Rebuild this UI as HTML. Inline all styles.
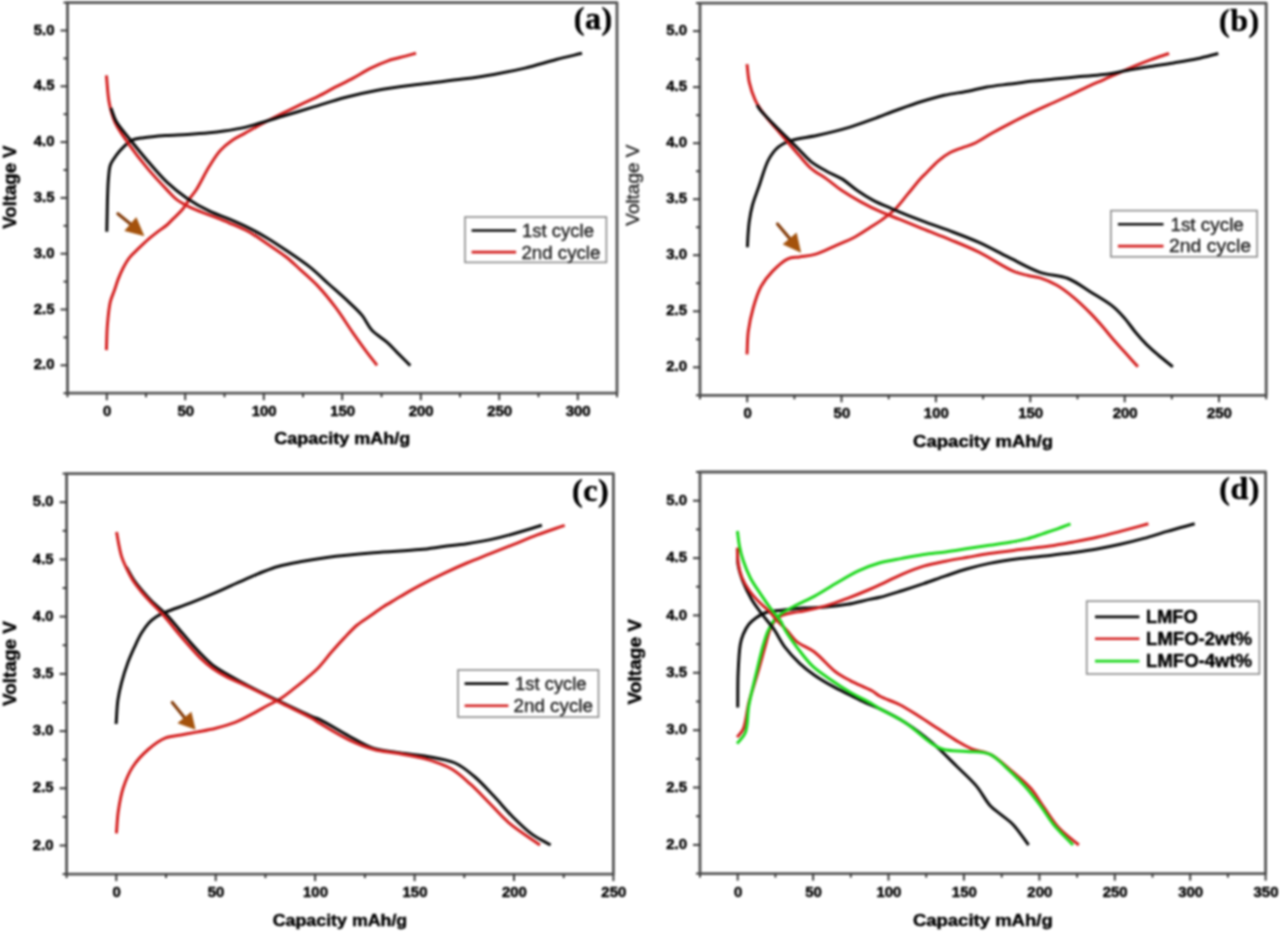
<!DOCTYPE html>
<html><head><meta charset="utf-8"><title>Charge-discharge curves</title>
<style>html,body{margin:0;padding:0;background:#fff;}body{width:1280px;height:933px;overflow:hidden;font-family:"Liberation Sans", sans-serif;}svg{display:block;filter:blur(0.8px);}.tk{stroke:#000;stroke-width:0.45px;}.tr{stroke:#222;stroke-width:0.35px;}</style>
</head><body>
<svg width="1280" height="933" viewBox="0 0 1280 933" font-family='"Liberation Sans", sans-serif'>
<rect width="1280" height="933" fill="#fff"/>
<rect x="67.5" y="2.6" width="549.5" height="390.6" fill="none" stroke="#555555" stroke-width="2.8" stroke-linejoin="round"/>
<line x1="63.5" y1="393.2" x2="67.5" y2="393.2" stroke="#3a3a3a" stroke-width="2"/>
<line x1="60.5" y1="365.3" x2="67.5" y2="365.3" stroke="#3a3a3a" stroke-width="2"/>
<text x="54.5" y="369.4" text-anchor="end" font-size="14" font-weight="bold" fill="#000" class="tk" textLength="20.73" lengthAdjust="spacingAndGlyphs">2.0</text>
<line x1="63.5" y1="337.4" x2="67.5" y2="337.4" stroke="#3a3a3a" stroke-width="2"/>
<line x1="60.5" y1="309.5" x2="67.5" y2="309.5" stroke="#3a3a3a" stroke-width="2"/>
<text x="54.5" y="313.6" text-anchor="end" font-size="14" font-weight="bold" fill="#000" class="tk" textLength="20.73" lengthAdjust="spacingAndGlyphs">2.5</text>
<line x1="63.5" y1="281.6" x2="67.5" y2="281.6" stroke="#3a3a3a" stroke-width="2"/>
<line x1="60.5" y1="253.7" x2="67.5" y2="253.7" stroke="#3a3a3a" stroke-width="2"/>
<text x="54.5" y="257.8" text-anchor="end" font-size="14" font-weight="bold" fill="#000" class="tk" textLength="20.73" lengthAdjust="spacingAndGlyphs">3.0</text>
<line x1="63.5" y1="225.8" x2="67.5" y2="225.8" stroke="#3a3a3a" stroke-width="2"/>
<line x1="60.5" y1="197.9" x2="67.5" y2="197.9" stroke="#3a3a3a" stroke-width="2"/>
<text x="54.5" y="202.0" text-anchor="end" font-size="14" font-weight="bold" fill="#000" class="tk" textLength="20.73" lengthAdjust="spacingAndGlyphs">3.5</text>
<line x1="63.5" y1="170.0" x2="67.5" y2="170.0" stroke="#3a3a3a" stroke-width="2"/>
<line x1="60.5" y1="142.1" x2="67.5" y2="142.1" stroke="#3a3a3a" stroke-width="2"/>
<text x="54.5" y="146.2" text-anchor="end" font-size="14" font-weight="bold" fill="#000" class="tk" textLength="20.73" lengthAdjust="spacingAndGlyphs">4.0</text>
<line x1="63.5" y1="114.2" x2="67.5" y2="114.2" stroke="#3a3a3a" stroke-width="2"/>
<line x1="60.5" y1="86.3" x2="67.5" y2="86.3" stroke="#3a3a3a" stroke-width="2"/>
<text x="54.5" y="90.4" text-anchor="end" font-size="14" font-weight="bold" fill="#000" class="tk" textLength="20.73" lengthAdjust="spacingAndGlyphs">4.5</text>
<line x1="63.5" y1="58.4" x2="67.5" y2="58.4" stroke="#3a3a3a" stroke-width="2"/>
<line x1="60.5" y1="30.5" x2="67.5" y2="30.5" stroke="#3a3a3a" stroke-width="2"/>
<text x="54.5" y="34.6" text-anchor="end" font-size="14" font-weight="bold" fill="#000" class="tk" textLength="20.73" lengthAdjust="spacingAndGlyphs">5.0</text>
<line x1="63.5" y1="2.6" x2="67.5" y2="2.6" stroke="#3a3a3a" stroke-width="2"/>
<line x1="67.5" y1="393.2" x2="67.5" y2="397.2" stroke="#3a3a3a" stroke-width="2"/>
<line x1="106.8" y1="393.2" x2="106.8" y2="400.2" stroke="#3a3a3a" stroke-width="2"/>
<text x="107.2" y="416.2" text-anchor="middle" font-size="14" font-weight="bold" fill="#000" class="tk" textLength="8.29" lengthAdjust="spacingAndGlyphs">0</text>
<line x1="146.0" y1="393.2" x2="146.0" y2="397.2" stroke="#3a3a3a" stroke-width="2"/>
<line x1="185.2" y1="393.2" x2="185.2" y2="400.2" stroke="#3a3a3a" stroke-width="2"/>
<text x="185.7" y="416.2" text-anchor="middle" font-size="14" font-weight="bold" fill="#000" class="tk" textLength="16.58" lengthAdjust="spacingAndGlyphs">50</text>
<line x1="224.5" y1="393.2" x2="224.5" y2="397.2" stroke="#3a3a3a" stroke-width="2"/>
<line x1="263.8" y1="393.2" x2="263.8" y2="400.2" stroke="#3a3a3a" stroke-width="2"/>
<text x="264.1" y="416.2" text-anchor="middle" font-size="14" font-weight="bold" fill="#000" class="tk" textLength="24.88" lengthAdjust="spacingAndGlyphs">100</text>
<line x1="303.0" y1="393.2" x2="303.0" y2="397.2" stroke="#3a3a3a" stroke-width="2"/>
<line x1="342.2" y1="393.2" x2="342.2" y2="400.2" stroke="#3a3a3a" stroke-width="2"/>
<text x="342.6" y="416.2" text-anchor="middle" font-size="14" font-weight="bold" fill="#000" class="tk" textLength="24.88" lengthAdjust="spacingAndGlyphs">150</text>
<line x1="381.5" y1="393.2" x2="381.5" y2="397.2" stroke="#3a3a3a" stroke-width="2"/>
<line x1="420.8" y1="393.2" x2="420.8" y2="400.2" stroke="#3a3a3a" stroke-width="2"/>
<text x="421.1" y="416.2" text-anchor="middle" font-size="14" font-weight="bold" fill="#000" class="tk" textLength="24.88" lengthAdjust="spacingAndGlyphs">200</text>
<line x1="460.0" y1="393.2" x2="460.0" y2="397.2" stroke="#3a3a3a" stroke-width="2"/>
<line x1="499.2" y1="393.2" x2="499.2" y2="400.2" stroke="#3a3a3a" stroke-width="2"/>
<text x="499.6" y="416.2" text-anchor="middle" font-size="14" font-weight="bold" fill="#000" class="tk" textLength="24.88" lengthAdjust="spacingAndGlyphs">250</text>
<line x1="538.5" y1="393.2" x2="538.5" y2="397.2" stroke="#3a3a3a" stroke-width="2"/>
<line x1="577.8" y1="393.2" x2="577.8" y2="400.2" stroke="#3a3a3a" stroke-width="2"/>
<text x="578.1" y="416.2" text-anchor="middle" font-size="14" font-weight="bold" fill="#000" class="tk" textLength="24.88" lengthAdjust="spacingAndGlyphs">300</text>
<line x1="617.0" y1="393.2" x2="617.0" y2="397.2" stroke="#3a3a3a" stroke-width="2"/>
<text x="342.2" y="443.9" text-anchor="middle" font-size="17" font-weight="bold" fill="#000" class="tk" textLength="136.0" lengthAdjust="spacingAndGlyphs">Capacity mAh/g</text>
<text transform="translate(15.6 187.1) rotate(-90)" text-anchor="middle" font-size="18.5" font-weight="bold" fill="#000" class="tk" textLength="83.2" lengthAdjust="spacingAndGlyphs">Voltage V</text>
<text x="573.7" y="29.3" font-family='"Liberation Serif", serif' font-size="32" font-weight="bold" fill="#000" class="tk" letter-spacing="0.6">(a)</text>
<path d="M106.40 350.10 C106.73 341.73 106.72 333.18 107.40 325.00 C108.05 317.13 108.78 308.30 110.30 301.90 C111.43 297.15 113.26 293.69 114.60 289.80 C115.84 286.21 116.75 282.90 118.10 279.40 C119.53 275.70 121.13 271.80 123.00 268.20 C124.86 264.61 126.79 261.01 129.30 257.80 C131.87 254.50 135.15 251.76 138.30 248.70 C141.63 245.46 145.25 241.97 148.80 238.90 C152.22 235.95 155.97 233.06 159.20 230.60 C161.93 228.52 164.55 227.00 166.90 225.00 C169.13 223.09 170.74 221.16 173.00 218.90 C175.84 216.06 179.73 212.81 182.60 209.30 C185.51 205.75 187.87 201.14 190.30 197.70 C192.33 194.84 193.90 193.37 196.10 190.00 C199.81 184.30 205.10 173.03 209.50 166.00 C213.15 160.17 216.32 154.89 220.30 150.50 C223.89 146.54 227.90 143.36 232.00 140.50 C235.92 137.76 239.73 136.15 244.30 133.60 C250.03 130.40 257.21 126.23 263.70 122.80 C270.08 119.43 276.68 116.28 282.90 113.20 C288.76 110.30 294.24 107.55 300.00 104.80 C305.81 102.02 311.77 99.51 317.60 96.60 C323.51 93.65 329.32 90.25 335.20 87.20 C341.02 84.18 346.90 81.50 352.70 78.40 C358.60 75.24 364.35 71.36 370.30 68.40 C376.09 65.52 381.96 62.86 387.90 60.80 C393.69 58.79 400.39 57.49 405.50 56.10 C409.45 55.03 412.50 54.17 416.00 53.20" fill="none" stroke="#d42020" stroke-width="3.0" stroke-linejoin="round" stroke-linecap="butt"/>
<path d="M106.80 231.80 C106.93 225.20 107.06 218.35 107.20 212.00 C107.33 206.12 107.38 200.67 107.60 195.00 C107.82 189.33 107.98 183.28 108.50 178.00 C108.96 173.37 108.99 168.90 110.40 165.00 C111.72 161.35 114.13 158.29 116.40 155.20 C118.69 152.08 121.42 148.95 124.10 146.40 C126.54 144.08 128.69 141.84 131.70 140.40 C135.09 138.78 139.08 138.45 143.70 137.70 C149.88 136.70 158.29 136.05 165.60 135.50 C172.89 134.95 180.20 134.87 187.50 134.40 C194.80 133.93 202.84 133.34 209.40 132.70 C214.76 132.18 219.03 131.69 224.00 131.00 C229.22 130.27 235.15 129.39 240.00 128.40 C244.11 127.56 246.62 126.88 251.30 125.60 C259.13 123.46 272.09 119.41 282.50 116.30 C292.93 113.18 303.38 110.04 313.80 106.90 C324.21 103.77 334.54 100.24 345.00 97.50 C355.38 94.78 364.95 92.58 376.30 90.50 C389.61 88.06 405.52 86.11 420.00 84.20 C434.25 82.32 449.43 80.87 462.50 79.10 C473.74 77.58 483.40 76.23 493.80 74.40 C504.23 72.56 514.63 70.57 525.00 68.10 C535.47 65.61 546.36 62.06 556.30 59.50 C565.27 57.19 573.43 55.37 582.00 53.30" fill="none" stroke="#0a0a0a" stroke-width="3.0" stroke-linejoin="round" stroke-linecap="butt"/>
<path d="M106.40 75.30 C107.37 84.63 107.62 94.90 109.30 103.30 C110.72 110.40 112.18 116.22 115.10 122.60 C118.36 129.73 123.52 136.55 128.60 143.80 C134.30 151.94 141.30 161.02 147.90 168.90 C154.18 176.40 161.82 184.49 167.20 190.10 C170.89 193.95 173.12 196.79 176.80 199.60 C180.75 202.62 185.30 204.97 190.30 207.40 C196.07 210.20 203.17 212.53 209.60 215.10 C216.03 217.67 222.50 220.08 228.90 222.80 C235.36 225.54 241.89 228.06 248.20 231.50 C254.77 235.08 261.10 239.69 267.50 244.00 C273.97 248.36 281.10 252.96 286.80 257.50 C291.75 261.44 295.30 265.09 300.00 269.40 C305.49 274.43 311.99 279.85 317.70 285.90 C323.81 292.37 329.67 299.61 335.40 307.20 C341.50 315.28 347.76 325.46 353.10 333.10 C357.39 339.24 360.90 344.19 364.90 349.60 C368.86 354.96 372.97 360.13 377.00 365.40" fill="none" stroke="#d42020" stroke-width="3.0" stroke-linejoin="round" stroke-linecap="butt"/>
<path d="M111.00 108.00 C112.67 112.33 113.46 116.45 116.00 121.00 C119.33 126.96 125.39 133.54 130.50 140.00 C135.98 146.92 141.86 154.21 147.90 161.20 C154.08 168.35 160.51 176.11 167.20 182.40 C173.41 188.24 179.58 193.17 186.50 197.90 C193.68 202.81 202.12 207.58 209.60 211.20 C216.20 214.40 222.50 216.18 228.90 218.90 C235.36 221.64 241.83 224.42 248.20 227.60 C254.70 230.84 261.14 234.38 267.50 238.20 C274.01 242.10 280.11 246.26 286.80 250.80 C294.22 255.84 302.78 261.44 310.00 267.20 C316.90 272.70 322.87 278.72 329.30 284.50 C335.74 290.29 342.80 296.40 348.60 301.90 C353.57 306.62 358.19 310.61 362.10 315.40 C365.83 319.97 367.71 325.52 371.70 329.90 C375.97 334.59 382.75 338.38 387.20 342.40 C390.89 345.73 393.32 348.60 396.80 352.10 C400.91 356.23 405.80 361.10 410.30 365.60" fill="none" stroke="#0a0a0a" stroke-width="3.0" stroke-linejoin="round" stroke-linecap="butt"/>
<line x1="117.9" y1="213.8" x2="130.5" y2="224.1" stroke="#86400f" stroke-width="3.2" stroke-linecap="round"/>
<polygon points="143.9,235.7 136.2,217.6 124.8,230.7" fill="#a4520c" stroke="#a4520c" stroke-width="0.6" stroke-linejoin="round"/>
<rect x="465.0" y="217.0" width="141.4" height="45.4" fill="#fff" stroke="#8a8a8a" stroke-width="1.6"/>
<line x1="471.6" y1="230.5" x2="516.1" y2="230.5" stroke="#0a0a0a" stroke-width="2.6"/>
<text x="522.0" y="236.9" font-size="18" font-weight="normal" fill="#222" class="tr" textLength="72.0" lengthAdjust="spacingAndGlyphs">1st cycle</text>
<line x1="471.6" y1="252.1" x2="516.1" y2="252.1" stroke="#d42020" stroke-width="2.6"/>
<text x="521.4" y="258.8" font-size="18" font-weight="normal" fill="#222" class="tr" textLength="79.0" lengthAdjust="spacingAndGlyphs">2nd cycle</text>
<rect x="700.0" y="3.1" width="566.2" height="392.2" fill="none" stroke="#555555" stroke-width="2.8" stroke-linejoin="round"/>
<line x1="696.0" y1="395.3" x2="700.0" y2="395.3" stroke="#3a3a3a" stroke-width="2"/>
<line x1="693.0" y1="367.3" x2="700.0" y2="367.3" stroke="#3a3a3a" stroke-width="2"/>
<text x="687.0" y="371.4" text-anchor="end" font-size="14" font-weight="bold" fill="#000" class="tk" textLength="20.73" lengthAdjust="spacingAndGlyphs">2.0</text>
<line x1="696.0" y1="339.3" x2="700.0" y2="339.3" stroke="#3a3a3a" stroke-width="2"/>
<line x1="693.0" y1="311.3" x2="700.0" y2="311.3" stroke="#3a3a3a" stroke-width="2"/>
<text x="687.0" y="315.4" text-anchor="end" font-size="14" font-weight="bold" fill="#000" class="tk" textLength="20.73" lengthAdjust="spacingAndGlyphs">2.5</text>
<line x1="696.0" y1="283.2" x2="700.0" y2="283.2" stroke="#3a3a3a" stroke-width="2"/>
<line x1="693.0" y1="255.2" x2="700.0" y2="255.2" stroke="#3a3a3a" stroke-width="2"/>
<text x="687.0" y="259.3" text-anchor="end" font-size="14" font-weight="bold" fill="#000" class="tk" textLength="20.73" lengthAdjust="spacingAndGlyphs">3.0</text>
<line x1="696.0" y1="227.2" x2="700.0" y2="227.2" stroke="#3a3a3a" stroke-width="2"/>
<line x1="693.0" y1="199.2" x2="700.0" y2="199.2" stroke="#3a3a3a" stroke-width="2"/>
<text x="687.0" y="203.3" text-anchor="end" font-size="14" font-weight="bold" fill="#000" class="tk" textLength="20.73" lengthAdjust="spacingAndGlyphs">3.5</text>
<line x1="696.0" y1="171.2" x2="700.0" y2="171.2" stroke="#3a3a3a" stroke-width="2"/>
<line x1="693.0" y1="143.2" x2="700.0" y2="143.2" stroke="#3a3a3a" stroke-width="2"/>
<text x="687.0" y="147.3" text-anchor="end" font-size="14" font-weight="bold" fill="#000" class="tk" textLength="20.73" lengthAdjust="spacingAndGlyphs">4.0</text>
<line x1="696.0" y1="115.2" x2="700.0" y2="115.2" stroke="#3a3a3a" stroke-width="2"/>
<line x1="693.0" y1="87.1" x2="700.0" y2="87.1" stroke="#3a3a3a" stroke-width="2"/>
<text x="687.0" y="91.2" text-anchor="end" font-size="14" font-weight="bold" fill="#000" class="tk" textLength="20.73" lengthAdjust="spacingAndGlyphs">4.5</text>
<line x1="696.0" y1="59.1" x2="700.0" y2="59.1" stroke="#3a3a3a" stroke-width="2"/>
<line x1="693.0" y1="31.1" x2="700.0" y2="31.1" stroke="#3a3a3a" stroke-width="2"/>
<text x="687.0" y="35.2" text-anchor="end" font-size="14" font-weight="bold" fill="#000" class="tk" textLength="20.73" lengthAdjust="spacingAndGlyphs">5.0</text>
<line x1="696.0" y1="3.1" x2="700.0" y2="3.1" stroke="#3a3a3a" stroke-width="2"/>
<line x1="700.0" y1="395.3" x2="700.0" y2="399.3" stroke="#3a3a3a" stroke-width="2"/>
<line x1="747.2" y1="395.3" x2="747.2" y2="402.3" stroke="#3a3a3a" stroke-width="2"/>
<text x="747.6" y="418.3" text-anchor="middle" font-size="14" font-weight="bold" fill="#000" class="tk" textLength="8.29" lengthAdjust="spacingAndGlyphs">0</text>
<line x1="794.4" y1="395.3" x2="794.4" y2="399.3" stroke="#3a3a3a" stroke-width="2"/>
<line x1="841.5" y1="395.3" x2="841.5" y2="402.3" stroke="#3a3a3a" stroke-width="2"/>
<text x="841.9" y="418.3" text-anchor="middle" font-size="14" font-weight="bold" fill="#000" class="tk" textLength="16.58" lengthAdjust="spacingAndGlyphs">50</text>
<line x1="888.7" y1="395.3" x2="888.7" y2="399.3" stroke="#3a3a3a" stroke-width="2"/>
<line x1="935.9" y1="395.3" x2="935.9" y2="402.3" stroke="#3a3a3a" stroke-width="2"/>
<text x="936.3" y="418.3" text-anchor="middle" font-size="14" font-weight="bold" fill="#000" class="tk" textLength="24.88" lengthAdjust="spacingAndGlyphs">100</text>
<line x1="983.1" y1="395.3" x2="983.1" y2="399.3" stroke="#3a3a3a" stroke-width="2"/>
<line x1="1030.3" y1="395.3" x2="1030.3" y2="402.3" stroke="#3a3a3a" stroke-width="2"/>
<text x="1030.7" y="418.3" text-anchor="middle" font-size="14" font-weight="bold" fill="#000" class="tk" textLength="24.88" lengthAdjust="spacingAndGlyphs">150</text>
<line x1="1077.5" y1="395.3" x2="1077.5" y2="399.3" stroke="#3a3a3a" stroke-width="2"/>
<line x1="1124.7" y1="395.3" x2="1124.7" y2="402.3" stroke="#3a3a3a" stroke-width="2"/>
<text x="1125.1" y="418.3" text-anchor="middle" font-size="14" font-weight="bold" fill="#000" class="tk" textLength="24.88" lengthAdjust="spacingAndGlyphs">200</text>
<line x1="1171.8" y1="395.3" x2="1171.8" y2="399.3" stroke="#3a3a3a" stroke-width="2"/>
<line x1="1219.0" y1="395.3" x2="1219.0" y2="402.3" stroke="#3a3a3a" stroke-width="2"/>
<text x="1219.4" y="418.3" text-anchor="middle" font-size="14" font-weight="bold" fill="#000" class="tk" textLength="24.88" lengthAdjust="spacingAndGlyphs">250</text>
<line x1="1266.2" y1="395.3" x2="1266.2" y2="399.3" stroke="#3a3a3a" stroke-width="2"/>
<text x="983.1" y="447.0" text-anchor="middle" font-size="17" font-weight="bold" fill="#000" class="tk" textLength="140.0" lengthAdjust="spacingAndGlyphs">Capacity mAh/g</text>
<text transform="translate(639.0 185.2) rotate(-90)" text-anchor="middle" font-size="18.5" font-weight="normal" fill="#222" class="tr" textLength="81.0" lengthAdjust="spacingAndGlyphs">Voltage V</text>
<text x="1218.9" y="31.0" font-family='"Liberation Serif", serif' font-size="32" font-weight="bold" fill="#000" class="tk" letter-spacing="0.6">(b)</text>
<path d="M747.00 354.40 C747.43 346.67 747.28 338.89 748.30 331.20 C749.33 323.43 751.06 315.49 753.20 308.00 C755.29 300.70 757.51 293.08 760.90 286.80 C764.03 281.00 767.96 276.03 772.40 271.40 C776.93 266.68 782.80 261.09 787.90 258.80 C791.81 257.04 795.36 257.58 799.50 256.90 C804.27 256.12 809.57 255.93 814.90 254.40 C821.07 252.63 827.64 249.16 834.20 246.30 C841.12 243.28 849.09 240.09 855.40 236.70 C860.83 233.78 865.36 230.46 870.00 227.50 C874.26 224.78 878.16 222.52 882.20 219.60 C886.50 216.49 890.91 213.31 895.00 209.30 C899.52 204.87 903.61 199.04 907.90 193.90 C912.18 188.77 917.16 182.39 920.70 178.50 C923.01 175.97 924.37 174.83 926.70 172.50 C929.95 169.25 934.34 164.22 938.40 160.80 C942.19 157.61 946.13 154.70 950.20 152.50 C954.02 150.44 958.05 149.27 962.00 147.80 C965.92 146.34 969.51 145.67 973.80 143.70 C979.48 141.09 986.48 136.17 992.70 132.70 C998.64 129.39 1003.98 126.56 1010.30 123.30 C1017.54 119.56 1025.94 115.34 1033.80 111.60 C1041.57 107.91 1049.96 104.33 1057.20 101.00 C1063.49 98.11 1069.15 95.45 1074.80 92.80 C1080.06 90.33 1085.07 87.83 1090.00 85.60 C1094.59 83.52 1098.32 82.04 1103.40 79.80 C1110.15 76.83 1119.04 72.63 1126.90 69.30 C1134.68 66.00 1142.89 62.65 1150.30 59.90 C1156.87 57.46 1162.83 55.63 1169.10 53.50" fill="none" stroke="#d42020" stroke-width="3.0" stroke-linejoin="round" stroke-linecap="butt"/>
<path d="M747.40 247.30 C747.60 243.20 747.70 239.21 748.00 235.00 C748.32 230.53 748.61 225.97 749.30 221.20 C750.06 216.00 751.00 210.52 752.50 205.00 C754.13 199.01 756.53 193.31 758.90 186.60 C761.78 178.45 764.74 166.66 768.60 159.60 C771.46 154.37 774.30 150.33 778.20 147.10 C782.02 143.94 786.36 142.12 791.70 140.30 C798.64 137.94 807.88 137.48 816.80 135.50 C827.13 133.21 839.93 130.12 850.00 127.10 C858.60 124.52 865.75 121.74 873.60 118.90 C881.49 116.04 889.31 112.86 897.20 110.00 C905.05 107.16 912.90 104.26 920.80 101.80 C928.60 99.37 936.41 97.07 944.30 95.30 C952.12 93.54 960.48 92.66 967.90 91.20 C974.59 89.88 980.21 88.17 986.90 87.00 C994.27 85.72 1002.49 84.98 1010.30 84.00 C1018.12 83.02 1025.97 81.97 1033.80 81.10 C1041.60 80.24 1049.45 79.55 1057.20 78.80 C1064.85 78.06 1072.35 77.30 1080.00 76.60 C1087.75 75.90 1095.61 75.61 1103.40 74.60 C1111.25 73.58 1119.08 71.87 1126.90 70.50 C1134.71 69.13 1142.48 67.67 1150.30 66.40 C1158.12 65.13 1165.98 64.17 1173.80 62.90 C1181.62 61.63 1189.63 60.41 1197.20 58.80 C1204.44 57.26 1211.27 55.27 1218.30 53.50" fill="none" stroke="#0a0a0a" stroke-width="3.0" stroke-linejoin="round" stroke-linecap="butt"/>
<path d="M747.00 64.10 C747.77 70.20 747.95 76.44 749.30 82.40 C750.65 88.34 752.52 94.32 755.10 99.80 C757.66 105.25 761.15 110.35 764.70 115.20 C768.22 120.01 772.43 124.28 776.30 128.80 C780.16 133.31 784.03 137.80 787.90 142.30 C791.77 146.80 795.60 151.42 799.50 155.80 C803.31 160.08 806.64 164.53 811.00 168.30 C815.58 172.27 821.38 175.23 826.50 178.90 C831.68 182.62 836.37 186.77 841.90 190.50 C847.87 194.53 854.69 198.53 861.20 202.10 C867.56 205.59 874.01 208.80 880.50 211.70 C886.88 214.55 893.09 216.68 899.80 219.40 C907.16 222.38 914.88 225.67 922.90 228.90 C931.56 232.39 940.85 235.82 950.00 239.60 C959.51 243.53 968.94 247.20 978.90 252.10 C990.09 257.61 1004.46 267.57 1013.70 271.40 C1019.35 273.74 1023.42 274.39 1028.00 275.50 C1032.15 276.51 1035.74 276.56 1040.00 277.90 C1045.24 279.55 1051.43 282.16 1056.90 285.30 C1062.72 288.64 1068.31 293.05 1073.80 297.60 C1079.56 302.37 1085.64 308.36 1090.60 313.40 C1094.83 317.70 1098.19 321.53 1101.90 325.80 C1105.69 330.16 1109.31 334.94 1113.10 339.30 C1116.81 343.57 1120.48 347.35 1124.40 351.70 C1128.71 356.48 1133.40 361.77 1137.90 366.80" fill="none" stroke="#d42020" stroke-width="3.0" stroke-linejoin="round" stroke-linecap="butt"/>
<path d="M757.00 105.00 C757.97 106.50 758.48 107.68 759.90 109.50 C762.52 112.88 767.96 118.40 772.40 123.00 C777.24 128.01 783.11 133.63 787.90 138.40 C792.05 142.54 795.65 146.13 799.50 150.00 C803.35 153.86 806.65 158.14 811.00 161.60 C815.59 165.25 821.27 168.28 826.50 171.20 C831.58 174.03 836.90 175.81 841.90 178.90 C847.19 182.18 852.08 186.93 857.30 190.50 C862.38 193.98 867.25 197.14 872.80 200.10 C878.78 203.28 884.88 205.72 892.10 208.80 C901.14 212.65 912.93 217.41 922.90 221.20 C932.19 224.73 940.85 227.44 950.00 230.90 C959.51 234.49 969.35 238.12 978.90 242.40 C988.65 246.77 997.97 252.03 1007.90 256.90 C1018.31 262.00 1029.45 268.66 1040.00 272.30 C1049.49 275.57 1059.51 275.08 1068.10 278.50 C1076.31 281.77 1083.14 287.34 1090.60 292.00 C1098.14 296.71 1107.08 301.73 1113.10 306.60 C1117.75 310.36 1120.76 313.77 1124.40 317.90 C1128.31 322.34 1131.85 327.90 1135.70 332.50 C1139.36 336.88 1143.05 341.07 1146.90 344.90 C1150.56 348.54 1154.15 351.55 1158.20 355.00 C1162.71 358.84 1167.93 362.87 1172.80 366.80" fill="none" stroke="#0a0a0a" stroke-width="3.0" stroke-linejoin="round" stroke-linecap="butt"/>
<line x1="777.5" y1="224.0" x2="789.8" y2="238.6" stroke="#86400f" stroke-width="3.2" stroke-linecap="round"/>
<polygon points="800.7,252.3 796.4,233.0 783.1,244.2" fill="#a4520c" stroke="#a4520c" stroke-width="0.6" stroke-linejoin="round"/>
<rect x="1110.9" y="210.6" width="146.2" height="46.2" fill="#fff" stroke="#8a8a8a" stroke-width="1.6"/>
<line x1="1117.9" y1="224.3" x2="1163.5" y2="224.3" stroke="#0a0a0a" stroke-width="2.6"/>
<text x="1170.4" y="230.5" font-size="18" font-weight="normal" fill="#222" class="tr" textLength="73.5" lengthAdjust="spacingAndGlyphs">1st cycle</text>
<line x1="1117.9" y1="246.1" x2="1163.5" y2="246.1" stroke="#d42020" stroke-width="2.6"/>
<text x="1169.0" y="251.8" font-size="18" font-weight="normal" fill="#222" class="tr" textLength="82.0" lengthAdjust="spacingAndGlyphs">2nd cycle</text>
<rect x="66.6" y="473.6" width="546.8" height="400.5" fill="none" stroke="#555555" stroke-width="2.8" stroke-linejoin="round"/>
<line x1="62.6" y1="874.1" x2="66.6" y2="874.1" stroke="#3a3a3a" stroke-width="2"/>
<line x1="59.6" y1="845.5" x2="66.6" y2="845.5" stroke="#3a3a3a" stroke-width="2"/>
<text x="53.6" y="849.6" text-anchor="end" font-size="14" font-weight="bold" fill="#000" class="tk" textLength="20.73" lengthAdjust="spacingAndGlyphs">2.0</text>
<line x1="62.6" y1="816.9" x2="66.6" y2="816.9" stroke="#3a3a3a" stroke-width="2"/>
<line x1="59.6" y1="788.3" x2="66.6" y2="788.3" stroke="#3a3a3a" stroke-width="2"/>
<text x="53.6" y="792.4" text-anchor="end" font-size="14" font-weight="bold" fill="#000" class="tk" textLength="20.73" lengthAdjust="spacingAndGlyphs">2.5</text>
<line x1="62.6" y1="759.7" x2="66.6" y2="759.7" stroke="#3a3a3a" stroke-width="2"/>
<line x1="59.6" y1="731.1" x2="66.6" y2="731.1" stroke="#3a3a3a" stroke-width="2"/>
<text x="53.6" y="735.2" text-anchor="end" font-size="14" font-weight="bold" fill="#000" class="tk" textLength="20.73" lengthAdjust="spacingAndGlyphs">3.0</text>
<line x1="62.6" y1="702.5" x2="66.6" y2="702.5" stroke="#3a3a3a" stroke-width="2"/>
<line x1="59.6" y1="673.9" x2="66.6" y2="673.9" stroke="#3a3a3a" stroke-width="2"/>
<text x="53.6" y="678.0" text-anchor="end" font-size="14" font-weight="bold" fill="#000" class="tk" textLength="20.73" lengthAdjust="spacingAndGlyphs">3.5</text>
<line x1="62.6" y1="645.2" x2="66.6" y2="645.2" stroke="#3a3a3a" stroke-width="2"/>
<line x1="59.6" y1="616.6" x2="66.6" y2="616.6" stroke="#3a3a3a" stroke-width="2"/>
<text x="53.6" y="620.7" text-anchor="end" font-size="14" font-weight="bold" fill="#000" class="tk" textLength="20.73" lengthAdjust="spacingAndGlyphs">4.0</text>
<line x1="62.6" y1="588.0" x2="66.6" y2="588.0" stroke="#3a3a3a" stroke-width="2"/>
<line x1="59.6" y1="559.4" x2="66.6" y2="559.4" stroke="#3a3a3a" stroke-width="2"/>
<text x="53.6" y="563.5" text-anchor="end" font-size="14" font-weight="bold" fill="#000" class="tk" textLength="20.73" lengthAdjust="spacingAndGlyphs">4.5</text>
<line x1="62.6" y1="530.8" x2="66.6" y2="530.8" stroke="#3a3a3a" stroke-width="2"/>
<line x1="59.6" y1="502.2" x2="66.6" y2="502.2" stroke="#3a3a3a" stroke-width="2"/>
<text x="53.6" y="506.3" text-anchor="end" font-size="14" font-weight="bold" fill="#000" class="tk" textLength="20.73" lengthAdjust="spacingAndGlyphs">5.0</text>
<line x1="62.6" y1="473.6" x2="66.6" y2="473.6" stroke="#3a3a3a" stroke-width="2"/>
<line x1="66.6" y1="874.1" x2="66.6" y2="878.1" stroke="#3a3a3a" stroke-width="2"/>
<line x1="116.3" y1="874.1" x2="116.3" y2="881.1" stroke="#3a3a3a" stroke-width="2"/>
<text x="116.7" y="897.3" text-anchor="middle" font-size="14" font-weight="bold" fill="#000" class="tk" textLength="8.29" lengthAdjust="spacingAndGlyphs">0</text>
<line x1="166.0" y1="874.1" x2="166.0" y2="878.1" stroke="#3a3a3a" stroke-width="2"/>
<line x1="215.7" y1="874.1" x2="215.7" y2="881.1" stroke="#3a3a3a" stroke-width="2"/>
<text x="216.1" y="897.3" text-anchor="middle" font-size="14" font-weight="bold" fill="#000" class="tk" textLength="16.58" lengthAdjust="spacingAndGlyphs">50</text>
<line x1="265.4" y1="874.1" x2="265.4" y2="878.1" stroke="#3a3a3a" stroke-width="2"/>
<line x1="315.1" y1="874.1" x2="315.1" y2="881.1" stroke="#3a3a3a" stroke-width="2"/>
<text x="315.5" y="897.3" text-anchor="middle" font-size="14" font-weight="bold" fill="#000" class="tk" textLength="24.88" lengthAdjust="spacingAndGlyphs">100</text>
<line x1="364.9" y1="874.1" x2="364.9" y2="878.1" stroke="#3a3a3a" stroke-width="2"/>
<line x1="414.6" y1="874.1" x2="414.6" y2="881.1" stroke="#3a3a3a" stroke-width="2"/>
<text x="415.0" y="897.3" text-anchor="middle" font-size="14" font-weight="bold" fill="#000" class="tk" textLength="24.88" lengthAdjust="spacingAndGlyphs">150</text>
<line x1="464.3" y1="874.1" x2="464.3" y2="878.1" stroke="#3a3a3a" stroke-width="2"/>
<line x1="514.0" y1="874.1" x2="514.0" y2="881.1" stroke="#3a3a3a" stroke-width="2"/>
<text x="514.4" y="897.3" text-anchor="middle" font-size="14" font-weight="bold" fill="#000" class="tk" textLength="24.88" lengthAdjust="spacingAndGlyphs">200</text>
<line x1="563.7" y1="874.1" x2="563.7" y2="878.1" stroke="#3a3a3a" stroke-width="2"/>
<line x1="613.4" y1="874.1" x2="613.4" y2="881.1" stroke="#3a3a3a" stroke-width="2"/>
<text x="613.8" y="897.3" text-anchor="middle" font-size="14" font-weight="bold" fill="#000" class="tk" textLength="24.88" lengthAdjust="spacingAndGlyphs">250</text>
<text x="340.0" y="926.2" text-anchor="middle" font-size="17" font-weight="bold" fill="#000" class="tk" textLength="134.5" lengthAdjust="spacingAndGlyphs">Capacity mAh/g</text>
<text transform="translate(16.0 663.5) rotate(-90)" text-anchor="middle" font-size="18.5" font-weight="bold" fill="#000" class="tk" textLength="85.0" lengthAdjust="spacingAndGlyphs">Voltage V</text>
<text x="571.9" y="500.9" font-family='"Liberation Serif", serif' font-size="32" font-weight="bold" fill="#000" class="tk" letter-spacing="0.6">(c)</text>
<path d="M116.40 833.40 C117.03 826.00 117.20 818.65 118.30 811.20 C119.44 803.52 120.76 795.43 123.20 788.00 C125.61 780.64 128.63 773.22 132.80 766.80 C136.96 760.39 142.57 754.40 148.20 749.50 C153.55 744.85 159.73 740.29 165.60 737.90 C170.68 735.83 175.86 735.97 181.00 735.00 C186.16 734.03 191.05 733.16 196.50 732.10 C202.59 730.92 209.40 729.80 215.80 728.20 C222.27 726.58 228.77 724.90 235.10 722.40 C241.65 719.81 248.56 715.86 254.40 712.80 C259.36 710.20 263.60 707.67 268.00 705.30 C272.11 703.09 276.03 701.50 280.00 699.00 C284.33 696.28 288.64 692.70 292.90 689.40 C297.21 686.07 301.47 682.70 305.70 679.10 C310.04 675.40 314.45 671.80 318.60 667.50 C323.07 662.87 327.16 657.09 331.50 652.10 C335.73 647.23 339.96 642.47 344.30 637.90 C348.53 633.44 352.73 628.75 357.20 625.00 C361.35 621.52 365.80 619.00 370.10 616.00 C374.40 613.00 378.66 609.81 383.00 607.00 C387.23 604.26 391.52 601.86 395.80 599.30 C400.09 596.73 404.53 594.01 408.70 591.60 C412.57 589.36 415.52 587.67 420.00 585.30 C426.37 581.94 435.55 577.33 443.40 573.60 C451.19 569.90 459.04 566.33 466.90 563.00 C474.67 559.71 482.49 556.81 490.30 553.70 C498.13 550.58 505.98 547.44 513.80 544.30 C521.61 541.17 529.05 537.96 537.20 534.90 C545.96 531.61 555.53 528.50 564.70 525.30" fill="none" stroke="#d42020" stroke-width="3.0" stroke-linejoin="round" stroke-linecap="butt"/>
<path d="M116.10 724.00 C116.70 716.00 116.86 707.29 117.90 700.00 C118.78 693.79 119.95 688.83 121.50 682.90 C123.23 676.31 125.66 668.61 128.00 662.30 C130.06 656.74 132.30 651.86 134.60 646.90 C136.81 642.14 138.99 637.26 141.50 633.10 C143.76 629.35 146.18 625.72 148.80 622.90 C151.06 620.46 153.36 618.63 156.00 616.90 C158.74 615.11 161.19 614.05 165.00 612.40 C171.20 609.72 181.65 606.45 190.00 603.20 C198.51 599.89 208.13 595.92 215.60 592.70 C221.50 590.16 226.07 587.95 231.30 585.60 C236.51 583.25 241.69 580.87 246.90 578.60 C252.09 576.34 257.27 574.03 262.50 572.00 C267.67 570.00 272.40 568.11 278.10 566.50 C284.73 564.63 292.30 563.24 300.00 561.80 C308.49 560.21 316.68 558.83 326.90 557.50 C340.33 555.75 358.13 554.12 373.70 552.80 C389.16 551.49 407.19 550.86 420.00 549.60 C429.13 548.70 435.59 547.58 443.40 546.60 C451.22 545.62 459.09 544.87 466.90 543.70 C474.72 542.53 482.52 541.24 490.30 539.60 C498.15 537.94 505.65 536.04 513.80 533.80 C522.78 531.34 532.53 528.13 541.90 525.30" fill="none" stroke="#0a0a0a" stroke-width="3.0" stroke-linejoin="round" stroke-linecap="butt"/>
<path d="M126.40 567.00 C128.80 571.20 130.91 575.60 133.60 579.60 C136.28 583.60 139.46 587.40 142.50 591.00 C145.40 594.45 147.96 597.35 151.40 600.80 C155.67 605.08 161.76 609.74 166.40 614.50 C170.90 619.12 174.82 624.17 178.90 628.90 C182.84 633.47 186.60 638.01 190.50 642.40 C194.33 646.71 198.07 650.98 202.10 655.00 C206.11 659.01 210.09 663.13 214.60 666.50 C219.10 669.86 223.78 672.15 229.10 675.20 C235.46 678.85 242.41 682.68 250.30 686.80 C260.04 691.88 272.63 698.06 283.30 703.20 C293.22 707.98 305.57 713.93 312.20 716.70 C315.58 718.12 316.66 718.04 320.00 719.60 C326.68 722.71 339.54 731.02 348.90 736.00 C357.50 740.58 365.59 745.77 374.00 748.50 C381.70 751.00 389.03 751.18 397.20 752.40 C406.29 753.76 416.50 754.45 426.10 756.20 C435.80 757.97 446.72 759.25 455.10 763.00 C462.55 766.33 468.20 771.28 474.40 776.50 C481.07 782.11 487.26 789.14 493.60 795.80 C500.10 802.63 506.30 810.43 512.90 817.00 C519.18 823.25 525.58 829.59 532.20 834.40 C538.18 838.75 544.47 841.47 550.60 845.00" fill="none" stroke="#0a0a0a" stroke-width="3.0" stroke-linejoin="round" stroke-linecap="butt"/>
<path d="M116.60 532.10 C117.30 536.10 117.88 540.07 118.70 544.10 C119.54 548.24 120.31 552.56 121.60 556.60 C122.88 560.59 124.56 564.30 126.40 568.20 C128.36 572.36 130.54 576.79 133.10 580.80 C135.67 584.83 138.82 588.69 141.80 592.30 C144.63 595.73 147.22 598.48 150.50 602.00 C154.58 606.36 160.07 611.42 164.50 616.40 C168.90 621.35 172.88 626.86 177.00 631.80 C180.91 636.48 184.71 640.91 188.60 645.30 C192.41 649.60 196.04 654.00 200.10 657.90 C204.08 661.73 208.22 665.31 212.70 668.50 C217.22 671.72 221.86 674.37 227.10 677.10 C232.98 680.17 241.44 683.43 246.40 685.80 C249.57 687.31 250.70 688.00 254.10 689.70 C260.70 693.01 273.59 699.39 283.30 704.20 C292.96 708.99 305.67 714.85 312.20 718.50 C315.69 720.45 316.55 721.34 320.00 723.40 C326.56 727.32 339.44 735.32 348.90 739.80 C357.41 743.83 365.68 747.24 374.00 749.50 C381.78 751.61 389.06 751.82 397.20 753.30 C406.32 754.96 416.91 756.42 426.10 759.10 C434.88 761.66 443.68 764.48 451.20 768.80 C458.41 772.94 464.22 778.59 470.50 784.20 C477.10 790.10 483.39 797.06 489.80 803.50 C496.19 809.93 501.45 816.46 508.90 822.80 C517.74 830.33 529.63 837.60 540.00 845.00" fill="none" stroke="#d42020" stroke-width="3.0" stroke-linejoin="round" stroke-linecap="butt"/>
<line x1="172.3" y1="702.5" x2="184.6" y2="717.7" stroke="#86400f" stroke-width="3.2" stroke-linecap="round"/>
<polygon points="195.2,729.3 191.2,712.2 177.9,723.1" fill="#a4520c" stroke="#a4520c" stroke-width="0.6" stroke-linejoin="round"/>
<rect x="458.0" y="670.0" width="140.5" height="47.1" fill="#fff" stroke="#8a8a8a" stroke-width="1.6"/>
<line x1="464.6" y1="683.6" x2="508.4" y2="683.6" stroke="#0a0a0a" stroke-width="2.6"/>
<text x="515.1" y="689.9" font-size="18" font-weight="normal" fill="#222" class="tr" textLength="71.5" lengthAdjust="spacingAndGlyphs">1st cycle</text>
<line x1="464.6" y1="705.8" x2="508.4" y2="705.8" stroke="#d42020" stroke-width="2.6"/>
<text x="513.5" y="711.8" font-size="18" font-weight="normal" fill="#222" class="tr" textLength="79.5" lengthAdjust="spacingAndGlyphs">2nd cycle</text>
<rect x="700.0" y="472.0" width="565.6" height="401.6" fill="none" stroke="#555555" stroke-width="2.8" stroke-linejoin="round"/>
<line x1="696.0" y1="873.6" x2="700.0" y2="873.6" stroke="#3a3a3a" stroke-width="2"/>
<line x1="693.0" y1="844.9" x2="700.0" y2="844.9" stroke="#3a3a3a" stroke-width="2"/>
<text x="687.0" y="849.0" text-anchor="end" font-size="14" font-weight="bold" fill="#000" class="tk" textLength="20.73" lengthAdjust="spacingAndGlyphs">2.0</text>
<line x1="696.0" y1="816.2" x2="700.0" y2="816.2" stroke="#3a3a3a" stroke-width="2"/>
<line x1="693.0" y1="787.5" x2="700.0" y2="787.5" stroke="#3a3a3a" stroke-width="2"/>
<text x="687.0" y="791.6" text-anchor="end" font-size="14" font-weight="bold" fill="#000" class="tk" textLength="20.73" lengthAdjust="spacingAndGlyphs">2.5</text>
<line x1="696.0" y1="758.9" x2="700.0" y2="758.9" stroke="#3a3a3a" stroke-width="2"/>
<line x1="693.0" y1="730.2" x2="700.0" y2="730.2" stroke="#3a3a3a" stroke-width="2"/>
<text x="687.0" y="734.3" text-anchor="end" font-size="14" font-weight="bold" fill="#000" class="tk" textLength="20.73" lengthAdjust="spacingAndGlyphs">3.0</text>
<line x1="696.0" y1="701.5" x2="700.0" y2="701.5" stroke="#3a3a3a" stroke-width="2"/>
<line x1="693.0" y1="672.8" x2="700.0" y2="672.8" stroke="#3a3a3a" stroke-width="2"/>
<text x="687.0" y="676.9" text-anchor="end" font-size="14" font-weight="bold" fill="#000" class="tk" textLength="20.73" lengthAdjust="spacingAndGlyphs">3.5</text>
<line x1="696.0" y1="644.1" x2="700.0" y2="644.1" stroke="#3a3a3a" stroke-width="2"/>
<line x1="693.0" y1="615.4" x2="700.0" y2="615.4" stroke="#3a3a3a" stroke-width="2"/>
<text x="687.0" y="619.5" text-anchor="end" font-size="14" font-weight="bold" fill="#000" class="tk" textLength="20.73" lengthAdjust="spacingAndGlyphs">4.0</text>
<line x1="696.0" y1="586.7" x2="700.0" y2="586.7" stroke="#3a3a3a" stroke-width="2"/>
<line x1="693.0" y1="558.1" x2="700.0" y2="558.1" stroke="#3a3a3a" stroke-width="2"/>
<text x="687.0" y="562.2" text-anchor="end" font-size="14" font-weight="bold" fill="#000" class="tk" textLength="20.73" lengthAdjust="spacingAndGlyphs">4.5</text>
<line x1="696.0" y1="529.4" x2="700.0" y2="529.4" stroke="#3a3a3a" stroke-width="2"/>
<line x1="693.0" y1="500.7" x2="700.0" y2="500.7" stroke="#3a3a3a" stroke-width="2"/>
<text x="687.0" y="504.8" text-anchor="end" font-size="14" font-weight="bold" fill="#000" class="tk" textLength="20.73" lengthAdjust="spacingAndGlyphs">5.0</text>
<line x1="696.0" y1="472.0" x2="700.0" y2="472.0" stroke="#3a3a3a" stroke-width="2"/>
<line x1="700.0" y1="873.6" x2="700.0" y2="877.6" stroke="#3a3a3a" stroke-width="2"/>
<line x1="737.7" y1="873.6" x2="737.7" y2="880.6" stroke="#3a3a3a" stroke-width="2"/>
<text x="738.1" y="897.3" text-anchor="middle" font-size="14" font-weight="bold" fill="#000" class="tk" textLength="8.29" lengthAdjust="spacingAndGlyphs">0</text>
<line x1="775.4" y1="873.6" x2="775.4" y2="877.6" stroke="#3a3a3a" stroke-width="2"/>
<line x1="813.1" y1="873.6" x2="813.1" y2="880.6" stroke="#3a3a3a" stroke-width="2"/>
<text x="813.5" y="897.3" text-anchor="middle" font-size="14" font-weight="bold" fill="#000" class="tk" textLength="16.58" lengthAdjust="spacingAndGlyphs">50</text>
<line x1="850.8" y1="873.6" x2="850.8" y2="877.6" stroke="#3a3a3a" stroke-width="2"/>
<line x1="888.5" y1="873.6" x2="888.5" y2="880.6" stroke="#3a3a3a" stroke-width="2"/>
<text x="888.9" y="897.3" text-anchor="middle" font-size="14" font-weight="bold" fill="#000" class="tk" textLength="24.88" lengthAdjust="spacingAndGlyphs">100</text>
<line x1="926.2" y1="873.6" x2="926.2" y2="877.6" stroke="#3a3a3a" stroke-width="2"/>
<line x1="963.9" y1="873.6" x2="963.9" y2="880.6" stroke="#3a3a3a" stroke-width="2"/>
<text x="964.3" y="897.3" text-anchor="middle" font-size="14" font-weight="bold" fill="#000" class="tk" textLength="24.88" lengthAdjust="spacingAndGlyphs">150</text>
<line x1="1001.7" y1="873.6" x2="1001.7" y2="877.6" stroke="#3a3a3a" stroke-width="2"/>
<line x1="1039.4" y1="873.6" x2="1039.4" y2="880.6" stroke="#3a3a3a" stroke-width="2"/>
<text x="1039.8" y="897.3" text-anchor="middle" font-size="14" font-weight="bold" fill="#000" class="tk" textLength="24.88" lengthAdjust="spacingAndGlyphs">200</text>
<line x1="1077.1" y1="873.6" x2="1077.1" y2="877.6" stroke="#3a3a3a" stroke-width="2"/>
<line x1="1114.8" y1="873.6" x2="1114.8" y2="880.6" stroke="#3a3a3a" stroke-width="2"/>
<text x="1115.2" y="897.3" text-anchor="middle" font-size="14" font-weight="bold" fill="#000" class="tk" textLength="24.88" lengthAdjust="spacingAndGlyphs">250</text>
<line x1="1152.5" y1="873.6" x2="1152.5" y2="877.6" stroke="#3a3a3a" stroke-width="2"/>
<line x1="1190.2" y1="873.6" x2="1190.2" y2="880.6" stroke="#3a3a3a" stroke-width="2"/>
<text x="1190.6" y="897.3" text-anchor="middle" font-size="14" font-weight="bold" fill="#000" class="tk" textLength="24.88" lengthAdjust="spacingAndGlyphs">300</text>
<line x1="1227.9" y1="873.6" x2="1227.9" y2="877.6" stroke="#3a3a3a" stroke-width="2"/>
<line x1="1265.6" y1="873.6" x2="1265.6" y2="880.6" stroke="#3a3a3a" stroke-width="2"/>
<text x="1266.0" y="897.3" text-anchor="middle" font-size="14" font-weight="bold" fill="#000" class="tk" textLength="24.88" lengthAdjust="spacingAndGlyphs">350</text>
<text x="982.8" y="926.2" text-anchor="middle" font-size="17" font-weight="bold" fill="#000" class="tk" textLength="139.8" lengthAdjust="spacingAndGlyphs">Capacity mAh/g</text>
<text transform="translate(640.5 661.7) rotate(-90)" text-anchor="middle" font-size="18.5" font-weight="bold" fill="#000" class="tk" textLength="85.6" lengthAdjust="spacingAndGlyphs">Voltage V</text>
<text x="1219.2" y="498.9" font-family='"Liberation Serif", serif' font-size="32" font-weight="bold" fill="#000" class="tk" letter-spacing="0.6">(d)</text>
<path d="M737.70 707.40 C737.83 696.07 737.62 684.27 738.10 673.40 C738.54 663.37 739.02 651.61 740.30 644.50 C741.07 640.22 741.82 637.69 743.20 634.40 C744.65 630.95 746.61 627.14 748.90 624.30 C751.00 621.69 753.68 619.65 756.20 617.80 C758.53 616.09 760.80 614.58 763.40 613.50 C766.09 612.39 768.89 611.89 772.10 611.30 C775.98 610.59 780.38 610.29 785.10 609.80 C790.74 609.22 797.24 608.56 803.70 608.10 C810.70 607.60 818.31 607.63 825.60 607.00 C832.91 606.37 840.23 605.56 847.50 604.30 C854.83 603.03 863.40 600.66 869.40 599.40 C873.56 598.52 875.86 598.33 880.00 597.30 C886.02 595.80 894.62 592.98 901.90 590.70 C909.19 588.42 916.44 586.06 923.70 583.60 C931.01 581.13 938.28 578.37 945.60 575.90 C952.88 573.44 960.16 570.89 967.50 568.80 C974.76 566.73 981.45 565.00 989.40 563.40 C998.71 561.53 1009.83 559.94 1020.00 558.60 C1030.03 557.28 1040.62 556.48 1050.00 555.40 C1058.29 554.44 1065.60 553.56 1073.40 552.50 C1081.23 551.43 1089.09 550.36 1096.90 549.00 C1104.73 547.63 1112.51 546.06 1120.30 544.30 C1128.15 542.53 1136.00 540.54 1143.80 538.40 C1151.63 536.25 1159.07 533.74 1167.20 531.40 C1175.98 528.87 1185.53 526.33 1194.70 523.80" fill="none" stroke="#0a0a0a" stroke-width="3.0" stroke-linejoin="round" stroke-linecap="butt"/>
<path d="M737.10 737.10 C739.13 734.43 741.50 732.80 743.20 729.10 C746.01 722.99 746.58 711.35 748.90 702.30 C751.34 692.80 754.87 682.79 757.60 673.40 C760.18 664.52 762.69 655.20 764.90 647.40 C766.71 641.02 767.93 634.84 769.90 630.00 C771.42 626.26 772.83 622.98 775.00 620.50 C776.93 618.29 779.23 616.77 781.90 615.50 C784.90 614.07 788.73 613.44 792.30 612.70 C795.99 611.93 799.30 611.84 803.70 611.00 C809.84 609.83 818.35 607.99 825.60 605.90 C832.96 603.77 840.23 601.02 847.50 598.30 C854.83 595.56 863.43 592.05 869.40 589.50 C873.59 587.71 875.84 586.63 880.00 584.70 C886.00 581.92 894.54 577.42 901.90 574.30 C909.11 571.24 916.35 568.29 923.70 566.10 C930.92 563.95 938.28 562.67 945.60 561.20 C952.88 559.74 960.20 558.58 967.50 557.30 C974.80 556.02 981.48 554.69 989.40 553.50 C998.73 552.10 1009.85 550.84 1020.00 549.60 C1030.05 548.37 1040.64 547.47 1050.00 546.10 C1058.30 544.89 1065.60 543.46 1073.40 542.00 C1081.23 540.53 1089.10 539.06 1096.90 537.30 C1104.73 535.53 1112.15 533.53 1120.30 531.40 C1129.25 529.06 1139.03 526.33 1148.40 523.80" fill="none" stroke="#d42020" stroke-width="3.0" stroke-linejoin="round" stroke-linecap="butt"/>
<path d="M737.10 743.60 C739.83 739.97 743.35 737.49 745.30 732.70 C748.09 725.88 747.20 714.66 748.90 705.20 C750.74 694.94 753.73 683.74 756.20 673.40 C758.56 663.53 761.02 652.44 763.40 644.50 C765.11 638.79 766.30 634.54 768.50 630.00 C770.66 625.55 772.77 621.15 776.40 617.50 C780.56 613.32 786.84 610.38 792.80 607.00 C799.48 603.21 807.48 600.05 814.70 596.10 C822.08 592.06 829.27 587.22 836.60 583.00 C843.84 578.83 851.02 574.31 858.40 570.90 C865.50 567.62 872.69 564.89 880.00 562.80 C887.19 560.74 894.60 559.77 901.90 558.40 C909.17 557.04 916.41 555.68 923.70 554.60 C930.98 553.52 938.31 552.90 945.60 551.90 C952.91 550.90 960.20 549.70 967.50 548.60 C974.80 547.50 982.10 546.40 989.40 545.30 C996.70 544.20 1004.63 543.16 1011.30 542.00 C1016.95 541.01 1021.74 540.25 1026.90 538.90 C1032.14 537.53 1037.30 535.52 1042.50 533.80 C1047.70 532.08 1053.22 530.36 1058.10 528.60 C1062.49 527.02 1066.37 525.40 1070.50 523.80" fill="none" stroke="#1cd81c" stroke-width="3.0" stroke-linejoin="round" stroke-linecap="butt"/>
<path d="M737.40 549.10 C737.63 554.40 737.21 559.64 738.10 565.00 C739.05 570.70 740.98 576.62 743.20 582.30 C745.50 588.19 748.58 594.28 751.80 599.70 C754.88 604.88 758.43 609.42 762.00 614.20 C765.65 619.09 769.80 623.44 773.50 628.70 C777.53 634.43 780.72 641.61 785.10 647.40 C789.43 653.13 794.57 658.59 799.60 663.30 C804.27 667.68 808.83 671.20 814.10 674.90 C819.84 678.93 826.69 682.95 832.90 686.40 C838.72 689.64 844.68 692.34 850.20 695.10 C855.24 697.62 859.77 700.01 864.70 702.30 C869.70 704.62 874.34 706.15 880.00 708.90 C887.41 712.50 896.77 717.17 905.10 722.50 C914.15 728.29 923.48 735.38 932.10 742.70 C940.86 750.13 949.42 759.17 957.20 766.80 C964.09 773.55 970.89 779.41 976.50 786.10 C981.71 792.31 985.32 800.30 990.00 805.40 C993.75 809.49 997.73 811.88 1001.60 815.10 C1005.46 818.31 1009.30 820.63 1013.20 824.70 C1018.27 829.99 1023.47 838.23 1028.60 845.00" fill="none" stroke="#0a0a0a" stroke-width="3.0" stroke-linejoin="round" stroke-linecap="butt"/>
<path d="M737.40 547.60 C737.63 552.73 737.36 558.03 738.10 563.00 C738.82 567.82 739.92 572.53 741.70 577.00 C743.50 581.53 746.06 585.89 748.90 590.00 C751.83 594.23 755.59 598.35 759.10 602.00 C762.37 605.41 766.05 608.04 769.20 611.30 C772.31 614.51 774.94 618.22 777.90 621.40 C780.74 624.44 783.65 626.86 786.60 630.00 C789.91 633.52 792.54 638.16 796.70 641.60 C801.46 645.53 808.23 647.34 814.10 651.70 C821.23 657.00 829.05 666.92 835.80 672.00 C840.87 675.82 844.83 677.74 850.20 680.60 C856.62 684.01 866.50 687.72 871.90 690.80 C875.35 692.77 876.61 694.45 880.00 696.30 C884.96 699.00 892.97 701.29 899.30 704.50 C905.85 707.82 912.21 712.01 918.60 716.00 C925.08 720.04 931.47 724.41 937.90 728.60 C944.31 732.78 951.07 737.55 957.10 741.10 C962.20 744.11 966.30 746.62 971.60 748.80 C977.47 751.21 984.68 751.35 990.90 754.60 C997.95 758.28 1004.60 765.12 1011.20 770.70 C1017.81 776.29 1024.94 781.81 1030.50 788.10 C1035.79 794.09 1039.31 800.84 1044.00 807.40 C1048.95 814.33 1053.63 822.29 1059.50 828.60 C1065.26 834.80 1072.37 839.53 1078.80 845.00" fill="none" stroke="#d42020" stroke-width="3.0" stroke-linejoin="round" stroke-linecap="butt"/>
<path d="M737.40 531.00 C738.10 536.07 738.52 541.23 739.50 546.20 C740.46 551.09 741.54 555.63 743.20 560.60 C745.06 566.19 747.52 572.45 750.40 578.00 C753.28 583.55 757.08 588.76 760.50 593.90 C763.81 598.88 767.16 603.75 770.60 608.40 C773.93 612.90 778.26 617.39 780.80 621.40 C782.74 624.46 783.12 626.66 785.10 630.00 C788.15 635.15 793.51 642.75 798.10 648.80 C802.67 654.82 807.22 661.09 812.60 666.20 C817.87 671.20 823.91 674.97 830.00 679.20 C836.41 683.65 843.26 688.12 850.20 692.20 C857.22 696.33 866.46 700.64 871.90 703.80 C875.30 705.77 876.51 706.86 880.00 708.90 C886.02 712.42 896.81 717.06 905.10 722.50 C914.19 728.47 924.78 739.06 932.10 743.70 C936.60 746.55 939.02 748.19 943.70 749.50 C949.95 751.25 959.10 750.60 966.80 751.40 C974.53 752.20 983.39 751.48 990.00 754.30 C996.09 756.90 1000.11 762.03 1005.40 766.80 C1011.61 772.40 1018.78 779.50 1024.70 786.10 C1030.33 792.38 1035.31 798.88 1040.20 805.40 C1044.97 811.76 1048.53 818.38 1053.70 824.70 C1059.34 831.60 1066.57 838.23 1073.00 845.00" fill="none" stroke="#1cd81c" stroke-width="3.0" stroke-linejoin="round" stroke-linecap="butt"/>
<rect x="1086.7" y="601.2" width="172.7" height="72.8" fill="#fff" stroke="#8a8a8a" stroke-width="1.6"/>
<line x1="1095.0" y1="616.9" x2="1139.4" y2="616.9" stroke="#0a0a0a" stroke-width="2.6"/>
<text x="1146.1" y="622.8" font-size="18" font-weight="bold" fill="#000" class="tk" textLength="51.5" lengthAdjust="spacingAndGlyphs">LMFO</text>
<line x1="1095.0" y1="638.8" x2="1139.4" y2="638.8" stroke="#d42020" stroke-width="2.6"/>
<text x="1146.1" y="645.0" font-size="18" font-weight="bold" fill="#000" class="tk" textLength="106.0" lengthAdjust="spacingAndGlyphs">LMFO-2wt%</text>
<line x1="1095.0" y1="661.1" x2="1139.4" y2="661.1" stroke="#1cd81c" stroke-width="2.6"/>
<text x="1146.1" y="667.3" font-size="18" font-weight="bold" fill="#000" class="tk" textLength="106.0" lengthAdjust="spacingAndGlyphs">LMFO-4wt%</text>
</svg></body></html>
